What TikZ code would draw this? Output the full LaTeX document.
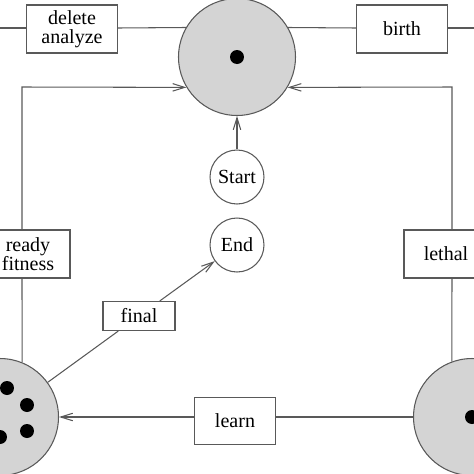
\documentclass[tikz,border=0pt]{standalone}
\usepackage{fontspec}
\setmainfont{Liberation Serif}
\usetikzlibrary{arrows.meta}
\begin{document}
\begin{tikzpicture}[x=0.02cm,y=-0.02cm,>={Straight Barb[length=2.4mm,width=1.5mm]}]
\tikzstyle{every node}=[font=\fontsize{11.4}{10.8}\selectfont,inner sep=0pt,align=center]
\tikzstyle{place}=[circle,draw=black!65,fill=black!17,line width=0.6pt,minimum size=2.34cm]
\tikzstyle{state}=[circle,draw=black!65,fill=white,line width=0.6pt,minimum size=1.08cm]
\tikzstyle{trans}=[rectangle,draw=black!65,fill=white,line width=0.6pt]
\tikzstyle{arc}=[draw=black!65,line width=0.6pt]
\useasboundingbox (0,0) rectangle (474,474);
\clip (0,0) rectangle (474,474);
% places
\node[place] (P) at (237,57) {};
\node[place] (L) at (0,417) {};
\node[place] (R) at (472,417) {};
\node[state] (start) at (237,177) {Start};
\node[state] (end) at (237,245) {End};
% transitions
\node[trans,minimum width=1.82cm,minimum height=0.96cm] (delete) at (72,29) {delete\\analyze};
\node[trans,minimum width=1.82cm,minimum height=0.96cm] (birth) at (402,29) {birth};
\node[trans,minimum width=1.68cm,minimum height=0.96cm] (ready) at (28,254) {ready\\fitness};
\node[trans,minimum width=1.68cm,minimum height=0.96cm] (lethal) at (446,254) {lethal};
\node[trans,minimum width=1.44cm,minimum height=0.58cm] (final) at (139,316) {final};
\node[trans,minimum width=1.62cm,minimum height=0.94cm] (learn) at (235,421) {learn};
\coordinate (w) at (0,28);
\coordinate (e) at (474,28);
\coordinate (tl) at (22,87);
\coordinate (tr) at (452,87);
% tokens
\foreach \x/\y in {237/57,7/388,27/405,27/431,0/437,472/417}
 \fill (\x,\y) circle[radius=0.14cm];
% arcs
\draw[arc] (w) -- (delete.west |- w);
\draw[arc] (delete.east |- w) -- (P.150);
\draw[arc] (P.30) -- (birth.west |- e);
\draw[arc] (birth.east |- e) -- (e);
\draw[arc,->] (start) -- (P);
\draw[arc] (L.68) -- (ready.south -| tl);
\draw[arc,->] (ready.north -| tl) -- (tl) -- (P.211);
\draw[arc] (R.110) -- (lethal.south -| tr);
\draw[arc,->] (lethal.north -| tr) -- (tr) -- (P.329);
\draw[arc] (R) -- (learn.east |- R);
\draw[arc,->] (learn.west |- L) -- (L);
\draw[arc] (L) -- (final);
\draw[arc,->] (final) -- (end);
\end{tikzpicture}
\end{document}
